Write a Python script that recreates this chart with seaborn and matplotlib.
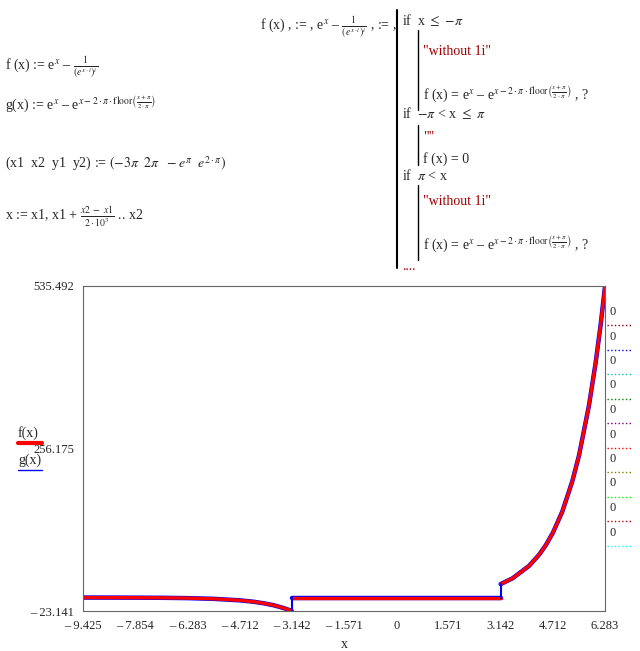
import matplotlib
matplotlib.use("Agg")
import numpy as np
import pandas as pd
import seaborn as sns
from matplotlib import pyplot as plt
from matplotlib.lines import Line2D

# values
x_left = [-9.425, -8.6, -7.854, -7.0, -6.283, -5.5, -4.712, -4.3, -4.0, -3.7, -3.5, -3.3, -3.142]
y_left = [-0.04, -0.1, -0.21, -0.49, -1.0, -2.2, -4.8, -7.2, -9.8, -13.1, -16.2, -19.7, -23.1]
x_mid = [-3.142, 3.142]
y_mid = [0.0, 0.0]
x_right = [3.142, 3.5, 4.0, 4.3, 4.5, 4.712, 5.0, 5.3, 5.5, 5.8, 6.0, 6.15, 6.283]
y_right = [23.1, 33.0, 54.5, 73.6, 89.8, 111.0, 148.0, 200.0, 244.0, 330.0, 403.0, 468.0, 534.5]
x_ticks = [-9.425, -7.854, -6.283, -4.712, -3.142, -1.571, 0, 1.571, 3.142, 4.712, 6.283]
y_ticks = [-23.141, 256.175, 535.492]
legend_cols = ["#800000", "#0000ff", "#00c0c0", "#008000", "#800080", "#ff0000",
               "#808000", "#00ff00", "#c00000", "#00ffff"]

sns.set_style("white")
plt.rcParams["font.family"] = ["Liberation Serif", "DejaVu Serif"]
plt.rcParams["mathtext.fontset"] = "stix"

fig = plt.figure(figsize=(6.4, 6.51), dpi=100)
ax = fig.add_axes([83/640, 1-611/651, 522/640, 325/651])

segs = [(x_left, y_left), (x_mid, y_mid), (x_right, y_right)]
for xs, ys in segs:
    df = pd.DataFrame({"x": xs, "y": ys})
    sns.lineplot(data=df, x="x", y="y", ax=ax, color="blue", lw=3.2, estimator=None)
    sns.lineplot(data=df, x="x", y="y", ax=ax, color="red", lw=2.4, estimator=None)
# jumps
ax.plot([-3.142, -3.142], [-23.1, 0], color="blue", lw=1.5)
ax.plot([3.142, 3.142], [0, 23.1], color="blue", lw=1.5)

ax.set_xlim(-9.425, 6.283)
ax.set_ylim(-23.141, 535.492)
ax.set_xticks(x_ticks)
ax.set_xticklabels([("– " + format(-t, ".3f")) if t < 0 else ("0" if t == 0 else format(t, ".3f")) for t in x_ticks])
ax.set_yticks(y_ticks)
ax.set_yticklabels(["– 23.141", "256.175", "535.492"])
ax.tick_params(labelsize=9, length=3, direction="out")
ax.set_xlabel("x", fontsize=10)
ax.set_ylabel("")
for s in ax.spines.values():
    s.set_color("#666666")
    s.set_linewidth(0.8)

# left trace labels
fig.text(18/640, 1-437/651, "f(x)", fontsize=10)
fig.add_artist(Line2D([18/640, 42/640], [1-443/651]*2, color="red", lw=3))
fig.text(18/640, 1-464/651, "g(x)", fontsize=10)
fig.add_artist(Line2D([18/640, 42/640], [1-470/651]*2, color="blue", lw=1))

# right trace markers
for i, c in enumerate(legend_cols):
    yy = 1 - (315 + i * 24.5) / 651
    fig.text(610/640, yy, "0", fontsize=9)
    fig.add_artist(Line2D([607/640, 632/640], [yy - 10/651]*2, color=c, lw=1, ls=":"))

# worksheet text
fs = 10
fig.text(5/640, 1-70/651, r"f (x) := e$^{x}$ – $\frac{1}{(e^{x\cdot i})^{i}}$", fontsize=fs)
fig.text(5/640, 1-110/651, r"g(x) := e$^{x}$ – e$^{x-2\cdot\pi\cdot \mathrm{floor}\left(\frac{x+\pi}{2\cdot\pi}\right)}$", fontsize=fs)
fig.text(5/640, 1-168/651, r"(x1  x2  y1  y2) := $\left(-3\pi\ \ 2\pi\ \ -e^{\pi}\ \ e^{2\cdot\pi}\right)$", fontsize=fs)
fig.text(5/640, 1-220/651, r"x := x1, x1 + $\frac{x2\ -\ x1}{2\cdot 10^{3}}$ .. x2", fontsize=fs)

fig.text(260/640, 1-30/651, r"f (x) , := , e$^{x}$ – $\frac{1}{(e^{x\cdot i})^{i}}$ , := ,", fontsize=fs)
fig.add_artist(Line2D([397/640]*2, [1-268/651, 1-10/651], color="black", lw=1.5))
fig.text(402/640, 1-25/651, r"if  x $\leq$ $-\pi$", fontsize=fs)
fig.add_artist(Line2D([418/640]*2, [1-110/651, 1-30/651], color="black", lw=1))
fig.text(423/640, 1-55/651, "\"without 1i\"", fontsize=fs, color="#a00000")
fig.text(423/640, 1-100/651, r"f (x) = e$^{x}$ – e$^{x-2\cdot\pi\cdot \mathrm{floor}\left(\frac{x+\pi}{2\cdot\pi}\right)}$ , ?", fontsize=fs)
fig.text(402/640, 1-118/651, r"if  $-\pi$ < x $\leq$ $\pi$", fontsize=fs)
fig.add_artist(Line2D([418/640]*2, [1-165/651, 1-125/651], color="black", lw=1))
fig.text(423/640, 1-140/651, "\"\"", fontsize=fs, color="#a00000")
fig.text(423/640, 1-163/651, r"f (x) = 0", fontsize=fs)
fig.text(402/640, 1-180/651, r"if  $\pi$ < x", fontsize=fs)
fig.add_artist(Line2D([418/640]*2, [1-260/651, 1-185/651], color="black", lw=1))
fig.text(423/640, 1-205/651, "\"without 1i\"", fontsize=fs, color="#a00000")
fig.text(423/640, 1-250/651, r"f (x) = e$^{x}$ – e$^{x-2\cdot\pi\cdot \mathrm{floor}\left(\frac{x+\pi}{2\cdot\pi}\right)}$ , ?", fontsize=fs)
fig.text(402/640, 1-270/651, "....", fontsize=fs, color="#a00000")

fig.savefig("out.png", dpi=100)
